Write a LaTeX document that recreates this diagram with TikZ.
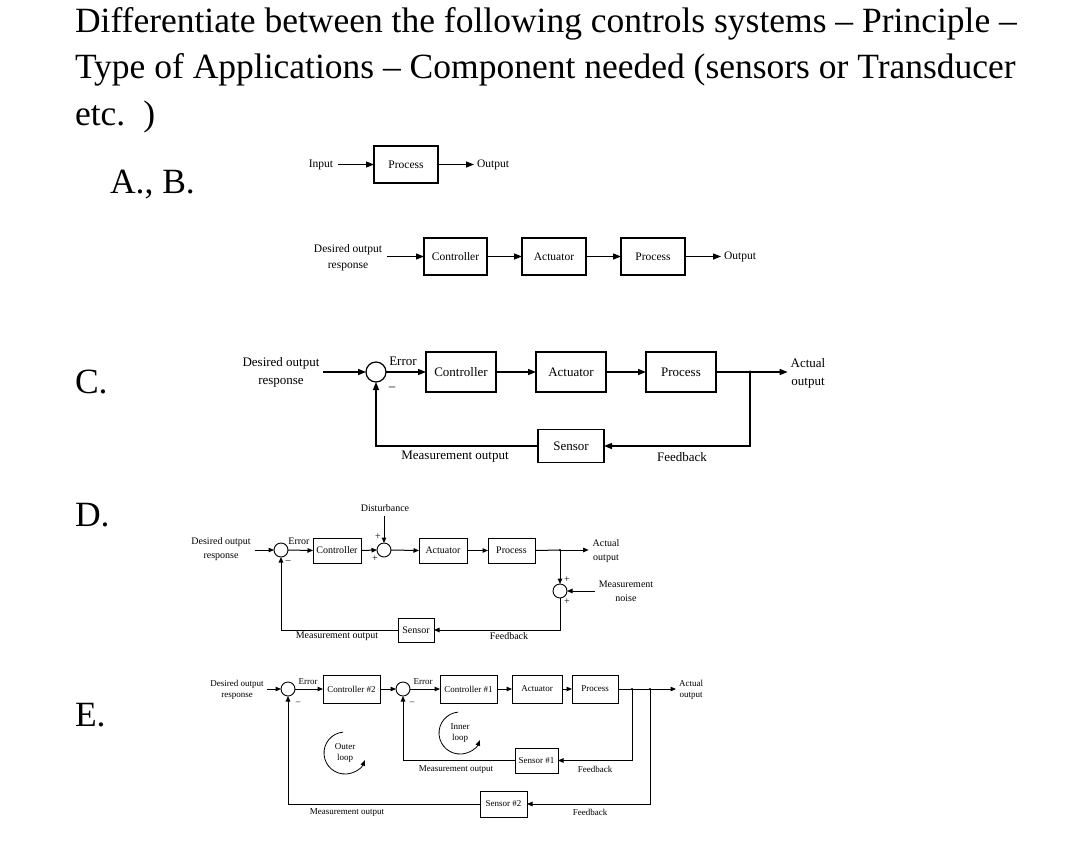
\documentclass[tikz,border=0pt]{standalone}
\usepackage{fontspec}
\setmainfont{Liberation Serif}
\usetikzlibrary{arrows.meta}
\tikzset{
  every node/.style={inner sep=0pt, outer sep=0pt},
  titletext/.style={font=\fontsize{35.5}{42}\selectfont, anchor=base west},
  fA/.style={font=\fontsize{11.5}{16}\selectfont},
  fC/.style={font=\fontsize{13}{18}\selectfont},
  fD/.style={font=\fontsize{10}{14}\selectfont},
  fE/.style={font=\fontsize{9}{11.5}\selectfont},
  blkA/.style={fA, draw, line width=1.1pt, minimum width=64pt, minimum height=37pt},
  blkC/.style={fC, draw, line width=1.2pt, minimum width=70pt, minimum height=40pt},
  blkD/.style={fD, draw, line width=0.9pt, minimum width=48pt, minimum height=25pt},
  blkE/.style={fE, draw, line width=0.9pt, minimum height=28pt},
  sumC/.style={draw, circle, line width=1.2pt, minimum size=20pt},
  sumD/.style={draw, circle, line width=0.9pt, minimum size=14pt},
  arrA/.style={line width=1.3pt, -{Triangle[length=8pt,width=6pt]}},
  arrC/.style={line width=1.4pt, -{Triangle[length=8pt,width=6pt]}},
  lineC/.style={line width=1.4pt},
  arrD/.style={line width=1pt, -{Triangle[length=5.5pt,width=4.5pt]}},
  lineD/.style={line width=1pt},
}
\begin{document}
\begin{tikzpicture}[x=1pt,y=-1pt]
\useasboundingbox (0,0) rectangle (1066,847);
% ---------- title ----------
\node[titletext] (t1) at (75,32) {Differentiate between the following controls systems – Principle –};
\node[titletext] (t2) at (75,78.5) {Type of Applications – Component needed (sensors or Transducer};
\node[titletext] (t3) at (75,125) {etc.\hspace{18pt})};
\node[titletext] (lab) at (110,193) {A., B.};
\node[titletext] (lc) at (75,393) {C.};
\node[titletext] (ld) at (75,526) {D.};
\node[titletext] (le) at (75,726) {E.};
% ---------- A ----------
\node[fA, inner xsep=5pt] (a_in) at (321,164.5) {Input};
\node[blkA] (a_p) at (406,164.5) {Process};
\node[fA, inner xsep=3pt] (a_out) at (493,164.5) {Output};
\draw[arrA] (a_in.east) -- (a_p.west);
\draw[arrA] (a_p.east) -- (a_out.west);
% ---------- B ----------
\node[fA, align=center, inner xsep=5pt] (b_in) at (348,258) {Desired output\\response};
\node[blkA, minimum width=63pt] (b_c) at (455.5,256.5) {Controller};
\node[blkA] (b_a) at (554,256.5) {Actuator};
\node[blkA] (b_p) at (653,256.5) {Process};
\node[fA, inner xsep=3pt] (b_out) at (740,256.5) {Output};
\draw[arrA] (b_in.east |- b_c.west) -- (b_c.west);
\draw[arrA] (b_c.east) -- (b_a.west);
\draw[arrA] (b_a.east) -- (b_p.west);
\draw[arrA] (b_p.east) -- (b_out.west);
% ---------- C ----------
\node[fC, align=center, inner xsep=4pt] (c_in) at (281,372) {Desired output\\response};
\node[sumC] (c_s) at (376,372) {};
\node[fC] (c_err) at (403,361) {Error};
\node[blkC] (c_c) at (461,372) {Controller};
\node[blkC] (c_a) at (571,372) {Actuator};
\node[blkC] (c_p) at (681,372) {Process};
\coordinate (c_j) at (750,372);
\node[fC, align=center, inner xsep=3pt] (c_out) at (808,373) {Actual\\output};
\node[blkC, minimum width=66pt, minimum height=33pt] (c_sen) at (571,446) {Sensor};
\node[fC] (c_mo) at (455,457) {Measurement output};
\node[fC] (c_fb) at (682,457) {Feedback};
\node[fC] (c_minus) at (392,389) {–};
\draw[arrC] (c_in.east |- c_s.west) -- (c_s.west);
\draw[arrC] (c_s.east) -- (c_c.west);
\draw[arrC] (c_c.east) -- (c_a.west);
\draw[arrC] (c_a.east) -- (c_p.west);
\draw[lineC] (c_p.east) -- (c_j);
\draw[arrC] (c_j) -- (c_out.west |- c_j);
\draw[arrC] (c_j) |- (c_sen.east);
\draw[arrC] (c_sen.west) -| (c_s.south);
\fill (c_j) circle (1.6);
% ---------- D ----------
\node[fD, align=center, inner xsep=4pt] (d_in) at (221,549) {Desired output\\response};
\node[sumD] (d_s1) at (281,550) {};
\node[fD] (d_err) at (299,541.5) {Error};
\node[blkD] (d_c) at (337,550.5) {Controller};
\node[sumD] (d_s2) at (384,550) {};
\node[fD, inner ysep=4pt] (d_dist) at (385,508) {Disturbance};
\node[fD] (d_p1) at (378,537) {+};
\node[fD] (d_p2) at (375,559) {+};
\node[blkD] (d_a) at (443,550.5) {Actuator};
\node[blkD, minimum width=47pt] (d_p) at (511.5,550.5) {Process};
\coordinate (d_j) at (560,550);
\node[fD, align=center, inner xsep=4pt] (d_out) at (606,551) {Actual\\output};
\node[sumD] (d_s3) at (560,591) {};
\node[fD] (d_p3) at (567,580) {+};
\node[fD] (d_p4) at (567,602) {+};
\node[fD, align=center, inner xsep=4pt] (d_noise) at (626,591) {Measurement\\noise};
\node[blkD, minimum width=36pt, minimum height=24pt] (d_sen) at (416,630) {Sensor};
\node[fD] (d_mo) at (337,636) {Measurement output};
\node[fD] (d_fb) at (509,636) {Feedback};
\node[fD] (d_minus) at (288,562) {–};
\draw[arrD] (d_in.east |- d_s1.west) -- (d_s1.west);
\draw[arrD] (d_s1.east) -- (d_c.west);
\draw[arrD] (d_c.east) -- (d_s2.west);
\draw[arrD] (d_dist.south -| d_s2.north) -- (d_s2.north);
\draw[arrD] (d_s2.east) -- (d_a.west);
\draw[arrD] (d_a.east) -- (d_p.west);
\draw[lineD] (d_p.east) -- (d_j);
\draw[arrD] (d_j) -- (d_out.west |- d_j);
\draw[arrD] (d_j) -- (d_s3.north);
\draw[arrD] (d_noise.west |- d_s3.east) -- (d_s3.east);
\draw[arrD] (d_s3.south) |- (d_sen.east);
\draw[arrD] (d_sen.west) -| (d_s1.south);
\fill (d_j) circle (1.2);
% ---------- E ----------
\node[fE, align=center, inner xsep=3pt] (e_in) at (237,690) {Desired output\\response};
\node[sumD] (e_s1) at (288,689) {};
\node[fE] (e_err1) at (308,681.5) {Error};
\node[blkE, minimum width=57pt] (e_c2) at (351.5,689) {Controller \#2};
\node[sumD] (e_s2) at (403,689) {};
\node[fE] (e_err2) at (423,681.5) {Error};
\node[blkE, minimum width=57pt] (e_c1) at (468.5,689) {Controller \#1};
\node[blkE, minimum width=50pt] (e_a) at (537,689) {Actuator};
\node[blkE, minimum width=46pt] (e_p) at (595,689) {Process};
\coordinate (e_j1) at (632,689);
\coordinate (e_j2) at (650,689);
\node[fE, align=center, inner xsep=3pt] (e_out) at (691,690) {Actual\\output};
\node[blkE, minimum width=43pt, minimum height=25pt] (e_sen1) at (536.5,760.5) {Sensor \#1};
\node[blkE, minimum width=47pt, minimum height=26pt] (e_sen2) at (503.5,804) {Sensor \#2};
\node[fE] (e_mo1) at (456,769) {Measurement output};
\node[fE] (e_fb1) at (595,769) {Feedback};
\node[fE] (e_mo2) at (347,812) {Measurement output};
\node[fE] (e_fb2) at (590,812) {Feedback};
\node[fE] (e_m1) at (298,703) {–};
\node[fE] (e_m2) at (412,703) {–};
\node[fE, align=center] (e_inner) at (460,733) {Inner\\loop};
\node[fE, align=center] (e_outer) at (345,753) {Outer\\loop};
\draw[arrD] (e_in.east |- e_s1.west) -- (e_s1.west);
\draw[arrD] (e_s1.east) -- (e_c2.west);
\draw[arrD] (e_c2.east) -- (e_s2.west);
\draw[arrD] (e_s2.east) -- (e_c1.west);
\draw[arrD] (e_c1.east) -- (e_a.west);
\draw[arrD] (e_a.east) -- (e_p.west);
\draw[lineD] (e_p.east) -- (e_j2);
\draw[arrD] (e_j2) -- (e_out.west |- e_j2);
\draw[arrD] (e_j1) |- (e_sen1.east);
\draw[arrD] (e_sen1.west) -| (e_s2.south);
\draw[arrD] (e_j2) |- (e_sen2.east);
\draw[arrD] (e_sen2.west) -| (e_s1.south);
\fill (e_j1) circle (1.2);
\fill (e_j2) circle (1.2);
\draw[arrD, line width=0.8pt] (e_inner.center) ++(-95:21) arc[start angle=-95, end angle=-340, radius=21];
\draw[arrD, line width=0.8pt] (e_outer.center) ++(-95:21) arc[start angle=-95, end angle=-340, radius=21];
\end{tikzpicture}
\end{document}
